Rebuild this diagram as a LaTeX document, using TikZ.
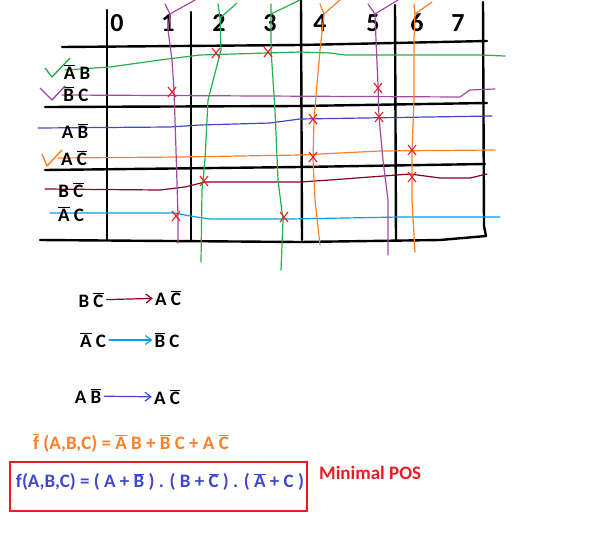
\documentclass[tikz,border=0pt]{standalone}
\usepackage{fontspec}
\setmainfont{Carlito}
\usetikzlibrary{arrows.meta}

\definecolor{pgreen}{RGB}{34,177,76}
\definecolor{ppurple}{RGB}{163,73,164}
\definecolor{pindigo}{RGB}{63,72,204}
\definecolor{porange}{RGB}{255,127,39}
\definecolor{pdarkred}{RGB}{136,0,21}
\definecolor{pcyan}{RGB}{0,162,232}
\definecolor{pred}{RGB}{237,28,36}

\newcommand\ovl[1]{$\overline{\mbox{#1}}$}

\tikzset{
  gridline/.style={line width=2.4pt, line cap=round},
  wire/.style={line width=1.2pt, line join=round, line cap=round},
  cross/.style={pred, line width=1.1pt},
  tick/.style={line width=1.4pt, line join=round},
  lbl/.style={font=\bfseries\fontsize{19}{19}\selectfont, inner sep=0pt},
  num/.style={font=\bfseries\fontsize{26}{26}\selectfont, inner sep=0pt},
  eqn/.style={font=\bfseries\fontsize{19}{20}\selectfont, inner sep=0pt},
  imply/.style={wire, -{Straight Barb[length=6pt, width=9pt]}, shorten <=3pt, shorten >=2pt},
}

\begin{document}
\begin{tikzpicture}[x=1pt, y=-1pt]
\useasboundingbox (0,0) rectangle (600,533);

% grid
\draw[gridline] (107,10) -- (107,240);
\draw[gridline] (191,12) -- (191,241);
\draw[gridline] (301,0) -- (302,240);
\draw[gridline] (395,5) -- (396,240);
\draw[gridline] (483,2) -- (484,226) -- (486,236);
\draw[gridline] (62,47) -- (300,45) -- (487,41);
\draw[gridline] (45,107) -- (300,106) -- (487,103);
\draw[gridline] (45,170) -- (300,167) -- (485,164);
\draw[gridline] (40,240) -- (300,242) -- (440,240) -- (486,236);

% column numbers
\foreach \x/\n in {117/0, 168/1, 219/2, 270/3, 320/4, 373/5, 417/6, 458/7}
  \node[num] (c\n) at (\x,23) {\n};

% row terms
\draw[wire, pgreen] (65,70) -- (110,67) -- (160,60) -- (200,55) -- (300,52) -- (330,53) -- (345,55) -- (480,55) -- (505,56);
\draw[wire, ppurple] (62,95) -- (460,97) -- (470,90) -- (495,89);
\draw[wire, pindigo] (38,128) -- (170,127) -- (200,125) -- (270,123) -- (300,119) -- (492,116);
\draw[wire, porange] (58,158) -- (180,157) -- (300,155) -- (380,151) -- (495,150);
\draw[wire, pdarkred] (45,189) -- (160,190) -- (185,187) -- (205,182) -- (300,182) -- (330,180) -- (410,174) -- (440,178) -- (470,178) -- (487,174);
\draw[wire, pcyan] (50,213) -- (175,213) -- (190,216) -- (210,219) -- (290,219) -- (400,217) -- (500,217);

% column terms
\draw[wire, ppurple] (165,4) -- (170,14) -- (195,0);
\draw[wire, ppurple] (170,14) -- (168,30) -- (172,60) -- (174,90) -- (176,150) -- (178,216) -- (178,243);
\draw[wire, pgreen] (218,4) -- (220,18) -- (237,3);
\draw[wire, pgreen] (220,18) -- (221,50) -- (208,100) -- (205,160) -- (202,190) -- (201,262);
\draw[wire, pgreen] (271,4) -- (271,50) -- (275,110) -- (278,180) -- (283,220) -- (281,270);
\draw[wire, pgreen] (271,14) -- (300,0);
\draw[wire, porange] (320,4) -- (324,14) -- (340,0);
\draw[wire, porange] (324,14) -- (320,50) -- (314,120) -- (313,160) -- (315,200) -- (320,245);
\draw[wire, ppurple] (368,4) -- (375,14) -- (398,0);
\draw[wire, ppurple] (375,14) -- (376,40) -- (378,85) -- (379,117) -- (383,160) -- (388,200) -- (388,255);
\draw[wire, porange] (414,4) -- (415,14) -- (432,2);
\draw[wire, porange] (415,14) -- (414,40) -- (414,100) -- (412,150) -- (412,200) -- (415,252);

% crossings
\foreach \x/\y in {216/53, 268/52, 172/92, 378/88, 313/119, 379/117,
                   313/157, 412/150, 204/181, 412/177, 176/216, 284/217}
  \draw[cross] (\x-4,\y-5) -- (\x+4,\y+5) (\x+4,\y-5) -- (\x-4,\y+5);

% row labels
\node[lbl] (ab)  at (77,72)  {\ovl{A} B};
\node[lbl] (bc)  at (76,94)  {\ovl{B} C};
\node[lbl] (abn) at (75,131) {A \ovl{B}};
\node[lbl] (acn) at (74,158) {A \ovl{C}};
\node[lbl] (bcn) at (71,190) {B \ovl{C}};
\node[lbl] (anc) at (71,214) {\ovl{A} C};

% ticks
\draw[tick, pgreen] (45,68) -- (52,77) -- (70,58);
\draw[tick, ppurple] (40,88) -- (52,100) -- (65,86);
\draw[tick, porange] (42,154) -- (47,166) -- (62,150);

% adjacencies
\node[lbl] (p1) at (91,300)  {B \ovl{C}};
\node[lbl] (q1) at (168,298) {A \ovl{C}};
\node[lbl] (p2) at (93,340)  {\ovl{A} C};
\node[lbl] (q2) at (167,340) {\ovl{B} C};
\node[lbl] (p3) at (88,396)  {A \ovl{B}};
\node[lbl] (q3) at (167,397) {A \ovl{C}};
\draw[imply, pdarkred] (p1) -- (q1);
\draw[imply, pcyan] (p2) -- (q2);
\draw[imply, pindigo] (p3) -- (q3);

% result
\node[eqn, porange] (fbar) at (131,443) {\ovl{f} (A,B,C) = \ovl{A} B + \ovl{B} C + A \ovl{C}};
\node[eqn, pindigo] (pos) at (160,482) {f(A,B,C) = ( A + \ovl{B} ) . ( B + \ovl{C} ) . ( \ovl{A} + C )};
\draw[pred, line width=1.5pt] (10,462) rectangle (307,511);
\node[eqn, pred, anchor=west] (minpos) at (319,473) {Minimal POS};
\end{tikzpicture}
\end{document}
